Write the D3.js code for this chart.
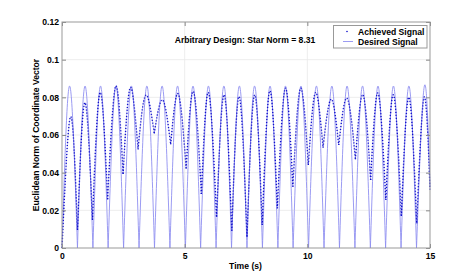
<!DOCTYPE html>
<html>
<head>
<meta charset="utf-8">
<script src="https://cdn.jsdelivr.net/npm/d3@7"></script>
<style>
  body { margin: 0; background: #fff; }
  text { font-family: "Liberation Sans", Arial, sans-serif; font-weight: bold; }
</style>
</head>
<body>
<svg id="chart" width="474" height="279"></svg>
<script>
// Keypoints: alternating trough / peak, seconds and norm
const achievedTime = [0, 0.35, 0.63, 0.93, 1.24, 1.55, 1.86, 2.19, 2.49, 2.78, 3.10, 3.41,
  3.76, 4.10, 4.43, 4.74, 5.06, 5.36, 5.68, 5.97, 6.30, 6.61, 6.92, 7.22, 7.54, 7.85, 8.16,
  8.47, 8.78, 9.10, 9.41, 9.72, 10.04, 10.33, 10.64, 10.97, 11.28, 11.62, 11.96, 12.27, 12.58,
  12.88, 13.20, 13.51, 13.83, 14.14, 14.46, 14.76, 15];
const achievedValue = [0, 0.0697, 0.0096, 0.0772, 0.0149, 0.0825, 0.0259, 0.0860, 0.0393,
  0.0851, 0.0524, 0.0811, 0.0609, 0.0786, 0.0551, 0.0818, 0.0423, 0.0830, 0.0287, 0.0825,
  0.0166, 0.0813, 0.0092, 0.0804, 0.0060, 0.0813, 0.0122, 0.0834, 0.0211, 0.0848, 0.0326,
  0.0848, 0.0441, 0.0825, 0.0533, 0.0790, 0.0547, 0.0795, 0.0471, 0.0813, 0.0361, 0.0822,
  0.0255, 0.0813, 0.0170, 0.0800, 0.0131, 0.0800, 0.0310];

// Desired signal: zero / peak keypoints
const desiredTime = [0, 0.31, 0.63, 0.94, 1.26, 1.57, 1.88, 2.20, 2.51, 2.83, 3.14, 3.46,
  3.77, 4.08, 4.40, 4.71, 5.03, 5.34, 5.65, 5.97, 6.28, 6.60, 6.91, 7.23, 7.54, 7.85, 8.17,
  8.48, 8.80, 9.11, 9.42, 9.74, 10.05, 10.37, 10.68, 11.00, 11.31, 11.62, 11.94, 12.25, 12.57,
  12.88, 13.19, 13.51, 13.82, 14.14, 14.45, 14.77, 15];
const desiredValue = [0, 0.086, 0, 0.086, 0, 0.086, 0, 0.086, 0, 0.086, 0, 0.086,
  0, 0.086, 0, 0.086, 0, 0.086, 0, 0.086, 0, 0.086, 0, 0.086, 0, 0.086, 0,
  0.086, 0, 0.086, 0, 0.086, 0, 0.086, 0, 0.086, 0, 0.086, 0, 0.086, 0,
  0.086, 0, 0.086, 0, 0.086, 0, 0.086, 0.033];

const timeTicks = [0, 5, 10, 15];
const normTicks = [0, 0.02, 0.04, 0.06, 0.08, 0.1, 0.12];
const legendLabels = ['Achieved Signal', 'Desired Signal'];
const titleText = 'Arbitrary Design: Star Norm = 8.31';

const svg = d3.select('#chart');
const plot = { left: 62, right: 430, top: 22, bottom: 248 };
const fs = 8.6;
const achievedColor = '#1010cc';
const desiredColor = '#9090f0';

const x = d3.scaleLinear().domain([0, 15]).range([plot.left, plot.right]);
const y = d3.scaleLinear().domain([0, 0.12]).range([plot.bottom, plot.top]);

// grid
const grid = svg.append('g').attr('stroke', '#e8e8e8').attr('stroke-width', 0.8);
grid.selectAll('.gx').data(timeTicks.slice(1, -1)).enter().append('line')
  .attr('x1', d => x(d)).attr('x2', d => x(d)).attr('y1', plot.top).attr('y2', plot.bottom);
grid.selectAll('.gy').data(normTicks.slice(1, -1)).enter().append('line')
  .attr('y1', d => y(d)).attr('y2', d => y(d)).attr('x1', plot.left).attr('x2', plot.right);

// split keypoints into humps (start, peak, end) so cusps stay sharp
function humps(t, v) {
  const out = [];
  for (let i = 0; i + 2 < t.length; i += 2) {
    out.push([0, 1, 2].map(k => [t[i + k], v[i + k]]));
  }
  return out;
}
const line = d3.line().x(d => x(d[0])).y(d => y(d[1])).curve(d3.curveNatural);

// desired signal underneath
svg.append('g').selectAll('path').data(humps(desiredTime, desiredValue)).enter()
  .append('path')
  .attr('d', line)
  .attr('fill', 'none')
  .attr('stroke', desiredColor)
  .attr('stroke-width', 0.9);

// achieved signal: faint trace plus dotted markers on top
const achievedHumps = humps(achievedTime, achievedValue);
svg.append('g').selectAll('path').data(achievedHumps).enter()
  .append('path')
  .attr('d', line)
  .attr('fill', 'none')
  .attr('stroke', achievedColor)
  .attr('stroke-opacity', 0.22)
  .attr('stroke-width', 1);
svg.append('g').selectAll('path').data(achievedHumps).enter()
  .append('path')
  .attr('d', line)
  .attr('fill', 'none')
  .attr('stroke', achievedColor)
  .attr('stroke-width', 1.35)
  .attr('stroke-dasharray', '1.1 1.9');

// axes with inward ticks
function styleAxis(g) {
  g.select('.domain').remove();
  g.selectAll('line').attr('stroke', '#888');
  g.selectAll('text').attr('fill', '#000').style('font-size', fs + 'px')
    .style('font-family', '"Liberation Sans", Arial, sans-serif').style('font-weight', 'bold');
}
svg.append('g').attr('transform', `translate(0,${plot.bottom})`)
  .call(d3.axisBottom(x).tickValues(timeTicks).tickFormat(d => d).tickSizeInner(-4).tickSizeOuter(0).tickPadding(4.5))
  .call(styleAxis);
svg.append('g').attr('transform', `translate(0,${plot.top})`)
  .call(d3.axisTop(x).tickValues(timeTicks).tickFormat('').tickSizeInner(-4).tickSizeOuter(0))
  .call(styleAxis);
svg.append('g').attr('transform', `translate(${plot.left},0)`)
  .call(d3.axisLeft(y).tickValues(normTicks).tickFormat(d => d).tickSizeInner(-4).tickSizeOuter(0).tickPadding(3))
  .call(styleAxis);
svg.append('g').attr('transform', `translate(${plot.right},0)`)
  .call(d3.axisRight(y).tickValues(normTicks).tickFormat('').tickSizeInner(-4).tickSizeOuter(0))
  .call(styleAxis);

// frame
svg.append('rect')
  .attr('x', plot.left).attr('y', plot.top)
  .attr('width', plot.right - plot.left).attr('height', plot.bottom - plot.top)
  .attr('fill', 'none').attr('stroke', '#999').attr('stroke-width', 1);

// labels
svg.append('text').attr('x', (plot.left + plot.right) / 2 - 0.5).attr('y', 269)
  .attr('text-anchor', 'middle').style('font-size', fs + 'px').text('Time (s)');
svg.append('text').attr('transform', 'translate(39,135) rotate(-90)')
  .attr('text-anchor', 'middle').style('font-size', fs + 'px')
  .text('Euclidean Norm of Coordinate Vector');
svg.append('text').attr('x', 245).attr('y', 43)
  .attr('text-anchor', 'middle').style('font-size', fs + 'px').text(titleText);

// legend
const lg = svg.append('g');
lg.append('rect').attr('x', 333.5).attr('y', 25.5).attr('width', 93.5).attr('height', 22.5)
  .attr('fill', '#fff').attr('stroke', '#999').attr('stroke-width', 1);
lg.append('circle').attr('cx', 347).attr('cy', 31.5).attr('r', 0.8).attr('fill', achievedColor);
lg.append('line').attr('x1', 343).attr('x2', 353).attr('y1', 41.5).attr('y2', 41.5)
  .attr('stroke', desiredColor).attr('stroke-width', 0.9);
lg.selectAll('.lt').data(legendLabels).enter().append('text')
  .attr('x', 358).attr('y', (d, i) => 34.6 + i * 10)
  .style('font-size', fs + 'px').text(d => d);
</script>
</body>
</html>
